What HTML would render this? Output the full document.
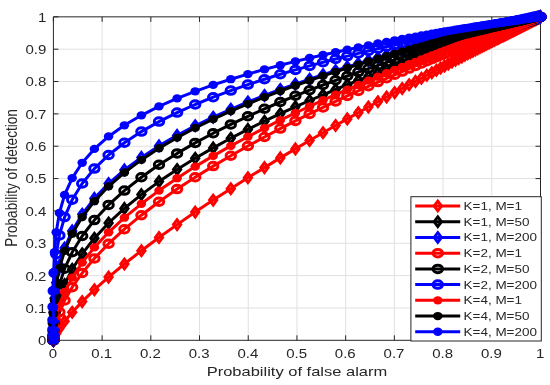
<!DOCTYPE html><html><head><meta charset="utf-8"><title>ROC</title><style>html,body{margin:0;padding:0;background:#fff}svg{display:block}text{font-family:"Liberation Sans",sans-serif;fill:#262626}</style></head><body>
<svg width="550" height="385" viewBox="0 0 550 385">
<rect width="550" height="385" fill="#fff"/>
<defs>
<marker id="mdr" markerUnits="userSpaceOnUse" markerWidth="20" markerHeight="20" refX="10" refY="10" viewBox="0 0 20 20" overflow="visible"><path d="M10 5.2l3.6 4.8l-3.6 4.8l-3.6 -4.8Z" fill="none" stroke="#ff0000" stroke-width="3.0" stroke-linejoin="miter"/></marker>
<marker id="mor" markerUnits="userSpaceOnUse" markerWidth="20" markerHeight="20" refX="10" refY="10" viewBox="0 0 20 20" overflow="visible"><ellipse cx="10" cy="10" rx="4.7" ry="3.75" fill="none" stroke="#ff0000" stroke-width="3.0"/></marker>
<marker id="mfr" markerUnits="userSpaceOnUse" markerWidth="20" markerHeight="20" refX="10" refY="10" viewBox="0 0 20 20" overflow="visible"><ellipse cx="10" cy="10" rx="4.75" ry="4.15" fill="#ff0000"/></marker>
<marker id="mdk" markerUnits="userSpaceOnUse" markerWidth="20" markerHeight="20" refX="10" refY="10" viewBox="0 0 20 20" overflow="visible"><path d="M10 5.2l3.6 4.8l-3.6 4.8l-3.6 -4.8Z" fill="none" stroke="#000000" stroke-width="3.0" stroke-linejoin="miter"/></marker>
<marker id="mok" markerUnits="userSpaceOnUse" markerWidth="20" markerHeight="20" refX="10" refY="10" viewBox="0 0 20 20" overflow="visible"><ellipse cx="10" cy="10" rx="4.7" ry="3.75" fill="none" stroke="#000000" stroke-width="3.0"/></marker>
<marker id="mfk" markerUnits="userSpaceOnUse" markerWidth="20" markerHeight="20" refX="10" refY="10" viewBox="0 0 20 20" overflow="visible"><ellipse cx="10" cy="10" rx="4.75" ry="4.15" fill="#000000"/></marker>
<marker id="mdb" markerUnits="userSpaceOnUse" markerWidth="20" markerHeight="20" refX="10" refY="10" viewBox="0 0 20 20" overflow="visible"><path d="M10 5.2l3.6 4.8l-3.6 4.8l-3.6 -4.8Z" fill="none" stroke="#0000ff" stroke-width="3.0" stroke-linejoin="miter"/></marker>
<marker id="mob" markerUnits="userSpaceOnUse" markerWidth="20" markerHeight="20" refX="10" refY="10" viewBox="0 0 20 20" overflow="visible"><ellipse cx="10" cy="10" rx="4.7" ry="3.75" fill="none" stroke="#0000ff" stroke-width="3.0"/></marker>
<marker id="mfb" markerUnits="userSpaceOnUse" markerWidth="20" markerHeight="20" refX="10" refY="10" viewBox="0 0 20 20" overflow="visible"><ellipse cx="10" cy="10" rx="4.75" ry="4.15" fill="#0000ff"/></marker>
</defs>
<path d="M102.11 16.85V340.3M53.4 307.96H540.5M150.82 16.85V340.3M53.4 275.61H540.5M199.53 16.85V340.3M53.4 243.27H540.5M248.24 16.85V340.3M53.4 210.92H540.5M296.95 16.85V340.3M53.4 178.58H540.5M345.66 16.85V340.3M53.4 146.23H540.5M394.37 16.85V340.3M53.4 113.89H540.5M443.08 16.85V340.3M53.4 81.54H540.5M491.79 16.85V340.3M53.4 49.19H540.5" stroke="#e0e0e0" stroke-width="1" fill="none"/>
<path d="M53.4 16.85H540.5V340.3H53.4ZM53.40 340.3v-5M53.40 16.85v5M53.4 340.30h5M540.5 340.30h-5M102.11 340.3v-5M102.11 16.85v5M53.4 307.96h5M540.5 307.96h-5M150.82 340.3v-5M150.82 16.85v5M53.4 275.61h5M540.5 275.61h-5M199.53 340.3v-5M199.53 16.85v5M53.4 243.27h5M540.5 243.27h-5M248.24 340.3v-5M248.24 16.85v5M53.4 210.92h5M540.5 210.92h-5M296.95 340.3v-5M296.95 16.85v5M53.4 178.58h5M540.5 178.58h-5M345.66 340.3v-5M345.66 16.85v5M53.4 146.23h5M540.5 146.23h-5M394.37 340.3v-5M394.37 16.85v5M53.4 113.89h5M540.5 113.89h-5M443.08 340.3v-5M443.08 16.85v5M53.4 81.54h5M540.5 81.54h-5M491.79 340.3v-5M491.79 16.85v5M53.4 49.19h5M540.5 49.19h-5M540.50 340.3v-5M540.50 16.85v5M53.4 16.85h5M540.5 16.85h-5" stroke="#262626" stroke-width="1" fill="none"/>
<text transform="translate(53.00 357.9) scale(1.25 1)" font-size="12" text-anchor="middle">0</text>
<text transform="translate(46.3 345.20) scale(1.25 1)" font-size="12" text-anchor="end">0</text>
<text transform="translate(101.71 357.9) scale(1.25 1)" font-size="12" text-anchor="middle">0.1</text>
<text transform="translate(46.3 312.86) scale(1.25 1)" font-size="12" text-anchor="end">0.1</text>
<text transform="translate(150.42 357.9) scale(1.25 1)" font-size="12" text-anchor="middle">0.2</text>
<text transform="translate(46.3 280.51) scale(1.25 1)" font-size="12" text-anchor="end">0.2</text>
<text transform="translate(199.13 357.9) scale(1.25 1)" font-size="12" text-anchor="middle">0.3</text>
<text transform="translate(46.3 248.17) scale(1.25 1)" font-size="12" text-anchor="end">0.3</text>
<text transform="translate(247.84 357.9) scale(1.25 1)" font-size="12" text-anchor="middle">0.4</text>
<text transform="translate(46.3 215.82) scale(1.25 1)" font-size="12" text-anchor="end">0.4</text>
<text transform="translate(296.55 357.9) scale(1.25 1)" font-size="12" text-anchor="middle">0.5</text>
<text transform="translate(46.3 183.48) scale(1.25 1)" font-size="12" text-anchor="end">0.5</text>
<text transform="translate(345.26 357.9) scale(1.25 1)" font-size="12" text-anchor="middle">0.6</text>
<text transform="translate(46.3 151.13) scale(1.25 1)" font-size="12" text-anchor="end">0.6</text>
<text transform="translate(393.97 357.9) scale(1.25 1)" font-size="12" text-anchor="middle">0.7</text>
<text transform="translate(46.3 118.79) scale(1.25 1)" font-size="12" text-anchor="end">0.7</text>
<text transform="translate(442.68 357.9) scale(1.25 1)" font-size="12" text-anchor="middle">0.8</text>
<text transform="translate(46.3 86.44) scale(1.25 1)" font-size="12" text-anchor="end">0.8</text>
<text transform="translate(491.39 357.9) scale(1.25 1)" font-size="12" text-anchor="middle">0.9</text>
<text transform="translate(46.3 54.09) scale(1.25 1)" font-size="12" text-anchor="end">0.9</text>
<text transform="translate(540.10 357.9) scale(1.25 1)" font-size="12" text-anchor="middle">1</text>
<text transform="translate(46.3 21.75) scale(1.25 1)" font-size="12" text-anchor="end">1</text>
<text transform="translate(296.95 376.1) scale(1.25 1)" font-size="13.2" text-anchor="middle">Probability of false alarm</text>
<text transform="translate(16.7 177.88) rotate(-90) scale(1 1.2)" font-size="13.6" text-anchor="middle">Probability of detection</text>
<path d="M53.4 340.3L53.4 340.3L53.4 340.3L53.4 340.3L53.4 340.3L53.4 340.2L53.5 339.9L53.7 339.0L54.5 337.0L56.2 333.6L59.4 328.4L64.6 321.2L72.2 312.2L82.2 301.6L94.4 289.7L108.6 277.1L124.4 264.0L141.4 250.7L159.0 237.5L177.1 224.6L195.2 212.1L213.2 200.1L230.8 188.7L247.9 177.8L264.5 167.6L280.3 157.9L295.4 148.9L309.6 140.5L323.0 132.7L335.6 125.5L347.3 118.9L358.3 112.7L368.4 107.0L377.9 101.8L386.6 97.0L394.7 92.6L402.2 88.5L409.1 84.8L415.5 81.4L421.4 78.2L426.8 75.3L431.8 72.7L436.4 70.2L440.6 68.0L444.6 65.9L448.4 63.9L452.0 62.0L455.5 60.2L458.8 58.5L461.9 56.9L464.8 55.3L467.7 53.8L470.4 52.5L472.9 51.1L475.3 49.9L477.7 48.7L479.9 47.5L482.0 46.5L484.0 45.4L485.9 44.4L487.7 43.5L489.5 42.6L491.1 41.8L492.7 40.9L494.2 40.2L495.7 39.4L497.1 38.7L498.4 38.1L499.7 37.4L500.9 36.8L502.0 36.2L503.2 35.6L504.2 35.1L505.2 34.6L506.2 34.1L507.2 33.6L508.1 33.1L508.9 32.7L509.7 32.3L510.5 31.9L511.3 31.5L512.0 31.1L512.7 30.8L513.4 30.4L514.1 30.1L514.7 29.8L515.3 29.5L515.9 29.2L516.5 28.9L517.5 28.4L518.5 27.9L519.5 27.4L520.5 26.9L521.5 26.4L522.5 25.9L523.4 25.4L524.4 24.9L525.4 24.4L526.4 23.9L527.4 23.4L528.4 22.9L529.4 22.4L530.4 21.9L531.4 21.4L532.4 20.9L533.4 20.4L534.4 19.9L535.4 19.4L536.4 18.9L537.4 18.4L538.4 17.9L539.4 17.4L540.4 16.9L540.5 16.9" fill="none" stroke="#ff0000" stroke-width="3.0" stroke-linejoin="round" marker-start="url(#mdr)" marker-mid="url(#mdr)" marker-end="url(#mdr)"/>
<path d="M53.4 340.3L53.4 340.3L53.4 340.3L53.4 340.1L53.4 339.6L53.4 338.2L53.5 335.1L53.7 329.7L54.5 321.7L56.2 311.3L59.4 298.6L64.6 284.5L72.2 269.3L82.2 253.8L94.4 238.2L108.6 223.0L124.4 208.4L141.4 194.6L159.0 181.6L177.1 169.5L195.2 158.3L213.2 147.9L230.8 138.3L247.9 129.4L264.5 121.2L280.3 113.7L295.4 106.8L309.6 100.5L323.0 94.8L335.6 89.5L347.3 84.7L358.3 80.3L368.4 76.3L377.9 72.6L386.6 69.3L394.7 66.2L402.2 63.5L409.1 60.9L415.5 58.6L421.4 56.5L426.8 54.5L431.8 52.8L436.4 51.1L440.6 49.7L444.6 48.3L448.4 46.9L452.0 45.7L455.5 44.5L458.8 43.4L461.9 42.3L464.8 41.3L467.7 40.4L470.4 39.5L472.9 38.6L475.3 37.8L477.7 37.0L479.9 36.3L482.0 35.6L484.0 34.9L485.9 34.3L487.7 33.7L489.5 33.1L491.1 32.6L492.7 32.0L494.2 31.5L495.7 31.1L497.1 30.6L498.4 30.2L499.7 29.8L500.9 29.4L502.0 29.0L503.2 28.7L504.2 28.3L505.2 28.0L506.2 27.7L507.2 27.4L508.1 27.1L508.9 26.8L509.7 26.5L510.5 26.3L511.3 26.0L512.0 25.8L512.7 25.6L513.4 25.4L514.1 25.1L514.7 24.9L515.3 24.8L515.9 24.6L516.5 24.4L517.5 24.1L518.5 23.8L519.5 23.4L520.5 23.1L521.5 22.8L522.5 22.5L523.4 22.2L524.4 21.9L525.4 21.5L526.4 21.2L527.4 20.9L528.4 20.6L529.4 20.3L530.4 20.0L531.4 19.7L532.4 19.4L533.4 19.0L534.4 18.7L535.4 18.4L536.4 18.1L537.4 17.8L538.4 17.5L539.4 17.2L540.4 16.9L540.5 16.9" fill="none" stroke="#000000" stroke-width="3.0" stroke-linejoin="round" marker-start="url(#mdk)" marker-mid="url(#mdk)" marker-end="url(#mdk)"/>
<path d="M53.4 340.3L53.4 340.2L53.4 339.9L53.4 338.8L53.4 336.3L53.4 331.4L53.5 323.4L53.7 312.2L54.5 298.3L56.2 282.5L59.4 265.5L64.6 248.1L72.2 230.9L82.2 214.2L94.4 198.4L108.6 183.6L124.4 169.9L141.4 157.4L159.0 145.9L177.1 135.4L195.2 125.8L213.2 117.2L230.8 109.3L247.9 102.0L264.5 95.5L280.3 89.5L295.4 84.1L309.6 79.2L323.0 74.7L335.6 70.6L347.3 66.9L358.3 63.6L368.4 60.5L377.9 57.8L386.6 55.3L394.7 53.0L402.2 50.9L409.1 49.0L415.5 47.3L421.4 45.7L426.8 44.3L431.8 42.9L436.4 41.7L440.6 40.7L444.6 39.6L448.4 38.7L452.0 37.7L455.5 36.9L458.8 36.0L461.9 35.3L464.8 34.5L467.7 33.8L470.4 33.2L472.9 32.5L475.3 32.0L477.7 31.4L479.9 30.9L482.0 30.3L484.0 29.9L485.9 29.4L487.7 29.0L489.5 28.6L491.1 28.2L492.7 27.8L494.2 27.4L495.7 27.1L497.1 26.8L498.4 26.4L499.7 26.1L500.9 25.9L502.0 25.6L503.2 25.3L504.2 25.1L505.2 24.8L506.2 24.6L507.2 24.4L508.1 24.2L508.9 24.0L509.7 23.8L510.5 23.6L511.3 23.4L512.0 23.3L512.7 23.1L513.4 23.0L514.1 22.8L514.7 22.7L515.3 22.5L515.9 22.4L516.5 22.3L517.5 22.0L518.5 21.8L519.5 21.6L520.5 21.3L521.5 21.1L522.5 20.9L523.4 20.7L524.4 20.4L525.4 20.2L526.4 20.0L527.4 19.8L528.4 19.5L529.4 19.3L530.4 19.1L531.4 18.9L532.4 18.6L533.4 18.4L534.4 18.2L535.4 18.0L536.4 17.8L537.4 17.5L538.4 17.3L539.4 17.1L540.4 16.9L540.5 16.9" fill="none" stroke="#0000ff" stroke-width="3.0" stroke-linejoin="round" marker-start="url(#mdb)" marker-mid="url(#mdb)" marker-end="url(#mdb)"/>
<path d="M53.4 340.3L53.4 340.3L53.4 340.3L53.4 340.3L53.4 340.1L53.4 339.5L53.5 337.9L53.7 334.8L54.5 329.6L56.2 322.0L59.4 312.1L64.6 300.4L72.2 287.2L82.2 273.0L94.4 258.4L108.6 243.7L124.4 229.2L141.4 215.2L159.0 201.8L177.1 189.1L195.2 177.2L213.2 166.1L230.8 155.7L247.9 146.0L264.5 137.0L280.3 128.6L295.4 120.9L309.6 113.9L323.0 107.4L335.6 101.4L347.3 95.9L358.3 90.9L368.4 86.3L377.9 82.1L386.6 78.3L394.7 74.8L402.2 71.6L409.1 68.6L415.5 65.9L421.4 63.5L426.8 61.2L431.8 59.2L436.4 57.3L440.6 55.5L444.6 53.9L448.4 52.4L452.0 50.9L455.5 49.5L458.8 48.2L461.9 47.0L464.8 45.8L467.7 44.7L470.4 43.6L472.9 42.6L475.3 41.6L477.7 40.7L479.9 39.9L482.0 39.0L484.0 38.2L485.9 37.5L487.7 36.8L489.5 36.1L491.1 35.5L492.7 34.9L494.2 34.3L495.7 33.7L497.1 33.2L498.4 32.7L499.7 32.2L500.9 31.7L502.0 31.3L503.2 30.9L504.2 30.5L505.2 30.1L506.2 29.7L507.2 29.3L508.1 29.0L508.9 28.7L509.7 28.3L510.5 28.0L511.3 27.8L512.0 27.5L512.7 27.2L513.4 27.0L514.1 26.7L514.7 26.5L515.3 26.2L515.9 26.0L516.5 25.8L517.5 25.4L518.5 25.1L519.5 24.7L520.5 24.3L521.5 23.9L522.5 23.6L523.4 23.2L524.4 22.8L525.4 22.4L526.4 22.1L527.4 21.7L528.4 21.3L529.4 20.9L530.4 20.6L531.4 20.2L532.4 19.8L533.4 19.5L534.4 19.1L535.4 18.7L536.4 18.3L537.4 18.0L538.4 17.6L539.4 17.2L540.4 16.9L540.5 16.9" fill="none" stroke="#ff0000" stroke-width="3.0" stroke-linejoin="round" marker-start="url(#mor)" marker-mid="url(#mor)" marker-end="url(#mor)"/>
<path d="M53.4 340.3L53.4 340.3L53.4 340.2L53.4 339.8L53.4 338.7L53.4 336.0L53.5 331.0L53.7 323.1L54.5 312.5L56.2 299.4L59.4 284.6L64.6 268.7L72.2 252.3L82.2 236.0L94.4 220.1L108.6 204.9L124.4 190.6L141.4 177.2L159.0 164.8L177.1 153.4L195.2 142.9L213.2 133.2L230.8 124.4L247.9 116.3L264.5 108.8L280.3 102.0L295.4 95.8L309.6 90.2L323.0 85.0L335.6 80.3L347.3 76.0L358.3 72.1L368.4 68.6L377.9 65.4L386.6 62.4L394.7 59.7L402.2 57.3L409.1 55.1L415.5 53.0L421.4 51.2L426.8 49.5L431.8 47.9L436.4 46.5L440.6 45.2L444.6 44.0L448.4 42.9L452.0 41.8L455.5 40.7L458.8 39.8L461.9 38.8L464.8 38.0L467.7 37.1L470.4 36.4L472.9 35.6L475.3 34.9L477.7 34.2L479.9 33.6L482.0 33.0L484.0 32.4L485.9 31.9L487.7 31.4L489.5 30.9L491.1 30.4L492.7 29.9L494.2 29.5L495.7 29.1L497.1 28.7L498.4 28.3L499.7 28.0L500.9 27.6L502.0 27.3L503.2 27.0L504.2 26.7L505.2 26.4L506.2 26.2L507.2 25.9L508.1 25.6L508.9 25.4L509.7 25.2L510.5 25.0L511.3 24.7L512.0 24.5L512.7 24.4L513.4 24.2L514.1 24.0L514.7 23.8L515.3 23.6L515.9 23.5L516.5 23.3L517.5 23.1L518.5 22.8L519.5 22.5L520.5 22.2L521.5 22.0L522.5 21.7L523.4 21.4L524.4 21.2L525.4 20.9L526.4 20.6L527.4 20.3L528.4 20.1L529.4 19.8L530.4 19.5L531.4 19.3L532.4 19.0L533.4 18.7L534.4 18.5L535.4 18.2L536.4 17.9L537.4 17.7L538.4 17.4L539.4 17.1L540.4 16.9L540.5 16.9" fill="none" stroke="#000000" stroke-width="3.0" stroke-linejoin="round" marker-start="url(#mok)" marker-mid="url(#mok)" marker-end="url(#mok)"/>
<path d="M53.4 340.3L53.4 339.6L53.4 338.3L53.4 335.2L53.4 329.3L53.4 319.9L53.5 306.9L53.7 290.9L54.5 273.0L56.2 254.2L59.4 235.4L64.6 217.1L72.2 199.7L82.2 183.5L94.4 168.6L108.6 155.0L124.4 142.7L141.4 131.6L159.0 121.6L177.1 112.6L195.2 104.5L213.2 97.2L230.8 90.6L247.9 84.6L264.5 79.2L280.3 74.3L295.4 69.9L309.6 65.9L323.0 62.3L335.6 59.0L347.3 56.1L358.3 53.4L368.4 51.0L377.9 48.8L386.6 46.8L394.7 45.0L402.2 43.4L409.1 41.9L415.5 40.5L421.4 39.3L426.8 38.1L431.8 37.1L436.4 36.2L440.6 35.3L444.6 34.5L448.4 33.7L452.0 33.0L455.5 32.3L458.8 31.7L461.9 31.1L464.8 30.5L467.7 30.0L470.4 29.5L472.9 29.0L475.3 28.5L477.7 28.1L479.9 27.7L482.0 27.3L484.0 26.9L485.9 26.5L487.7 26.2L489.5 25.9L491.1 25.6L492.7 25.3L494.2 25.0L495.7 24.7L497.1 24.5L498.4 24.2L499.7 24.0L500.9 23.8L502.0 23.6L503.2 23.4L504.2 23.2L505.2 23.0L506.2 22.8L507.2 22.7L508.1 22.5L508.9 22.4L509.7 22.2L510.5 22.1L511.3 21.9L512.0 21.8L512.7 21.7L513.4 21.6L514.1 21.4L514.7 21.3L515.3 21.2L515.9 21.1L516.5 21.0L517.5 20.8L518.5 20.7L519.5 20.5L520.5 20.3L521.5 20.1L522.5 20.0L523.4 19.8L524.4 19.6L525.4 19.4L526.4 19.3L527.4 19.1L528.4 18.9L529.4 18.7L530.4 18.6L531.4 18.4L532.4 18.2L533.4 18.1L534.4 17.9L535.4 17.7L536.4 17.5L537.4 17.4L538.4 17.2L539.4 17.0L540.4 16.9L540.5 16.9" fill="none" stroke="#0000ff" stroke-width="3.0" stroke-linejoin="round" marker-start="url(#mob)" marker-mid="url(#mob)" marker-end="url(#mob)"/>
<path d="M53.4 340.3L53.4 340.3L53.4 340.3L53.4 340.2L53.4 339.9L53.4 338.9L53.5 336.6L53.7 332.3L54.5 325.6L56.2 316.4L59.4 305.1L64.6 291.9L72.2 277.6L82.2 262.6L94.4 247.4L108.6 232.3L124.4 217.7L141.4 203.8L159.0 190.6L177.1 178.2L195.2 166.6L213.2 155.9L230.8 145.9L247.9 136.7L264.5 128.1L280.3 120.2L295.4 113.0L309.6 106.3L323.0 100.2L335.6 94.7L347.3 89.6L358.3 84.9L368.4 80.6L377.9 76.7L386.6 73.2L394.7 69.9L402.2 67.0L409.1 64.2L415.5 61.8L421.4 59.5L426.8 57.4L431.8 55.5L436.4 53.8L440.6 52.2L444.6 50.7L448.4 49.3L452.0 47.9L455.5 46.7L458.8 45.5L461.9 44.3L464.8 43.2L467.7 42.2L470.4 41.2L472.9 40.3L475.3 39.4L477.7 38.6L479.9 37.8L482.0 37.1L484.0 36.3L485.9 35.7L487.7 35.0L489.5 34.4L491.1 33.8L492.7 33.2L494.2 32.7L495.7 32.2L497.1 31.7L498.4 31.3L499.7 30.8L500.9 30.4L502.0 30.0L503.2 29.6L504.2 29.2L505.2 28.9L506.2 28.5L507.2 28.2L508.1 27.9L508.9 27.6L509.7 27.3L510.5 27.0L511.3 26.8L512.0 26.5L512.7 26.3L513.4 26.0L514.1 25.8L514.7 25.6L515.3 25.4L515.9 25.2L516.5 25.0L517.5 24.7L518.5 24.3L519.5 24.0L520.5 23.6L521.5 23.3L522.5 22.9L523.4 22.6L524.4 22.3L525.4 21.9L526.4 21.6L527.4 21.2L528.4 20.9L529.4 20.6L530.4 20.2L531.4 19.9L532.4 19.6L533.4 19.2L534.4 18.9L535.4 18.5L536.4 18.2L537.4 17.9L538.4 17.5L539.4 17.2L540.4 16.9L540.5 16.9" fill="none" stroke="#ff0000" stroke-width="3.0" stroke-linejoin="round" marker-start="url(#mfr)" marker-mid="url(#mfr)" marker-end="url(#mfr)"/>
<path d="M53.4 340.3L53.4 340.2L53.4 339.9L53.4 339.0L53.4 336.7L53.4 332.1L53.5 324.6L53.7 313.8L54.5 300.4L56.2 284.9L59.4 268.1L64.6 250.9L72.2 233.7L82.2 217.1L94.4 201.2L108.6 186.3L124.4 172.5L141.4 159.9L159.0 148.2L177.1 137.6L195.2 127.9L213.2 119.1L230.8 111.1L247.9 103.8L264.5 97.1L280.3 91.0L295.4 85.5L309.6 80.5L323.0 75.9L335.6 71.8L347.3 68.0L358.3 64.6L368.4 61.5L377.9 58.7L386.6 56.1L394.7 53.8L402.2 51.7L409.1 49.7L415.5 48.0L421.4 46.4L426.8 44.9L431.8 43.5L436.4 42.3L440.6 41.2L444.6 40.2L448.4 39.2L452.0 38.2L455.5 37.3L458.8 36.5L461.9 35.7L464.8 34.9L467.7 34.2L470.4 33.6L472.9 32.9L475.3 32.3L477.7 31.7L479.9 31.2L482.0 30.7L484.0 30.2L485.9 29.7L487.7 29.3L489.5 28.8L491.1 28.4L492.7 28.0L494.2 27.7L495.7 27.3L497.1 27.0L498.4 26.7L499.7 26.4L500.9 26.1L502.0 25.8L503.2 25.5L504.2 25.3L505.2 25.0L506.2 24.8L507.2 24.6L508.1 24.4L508.9 24.2L509.7 24.0L510.5 23.8L511.3 23.6L512.0 23.4L512.7 23.3L513.4 23.1L514.1 22.9L514.7 22.8L515.3 22.7L515.9 22.5L516.5 22.4L517.5 22.2L518.5 21.9L519.5 21.7L520.5 21.5L521.5 21.2L522.5 21.0L523.4 20.8L524.4 20.5L525.4 20.3L526.4 20.1L527.4 19.8L528.4 19.6L529.4 19.4L530.4 19.1L531.4 18.9L532.4 18.7L533.4 18.5L534.4 18.2L535.4 18.0L536.4 17.8L537.4 17.5L538.4 17.3L539.4 17.1L540.4 16.9L540.5 16.9" fill="none" stroke="#000000" stroke-width="3.0" stroke-linejoin="round" marker-start="url(#mfk)" marker-mid="url(#mfk)" marker-end="url(#mfk)"/>
<path d="M53.4 340.3L53.4 338.4L53.4 335.5L53.4 329.8L53.4 320.6L53.4 307.5L53.5 291.0L53.7 272.1L54.5 252.2L56.2 232.3L59.4 213.0L64.6 194.9L72.2 178.1L82.2 162.8L94.4 148.9L108.6 136.4L124.4 125.3L141.4 115.3L159.0 106.4L177.1 98.4L195.2 91.3L213.2 84.9L230.8 79.2L247.9 74.1L264.5 69.4L280.3 65.2L295.4 61.4L309.6 58.0L323.0 55.0L335.6 52.2L347.3 49.7L358.3 47.4L368.4 45.4L377.9 43.5L386.6 41.9L394.7 40.3L402.2 39.0L409.1 37.7L415.5 36.6L421.4 35.5L426.8 34.6L431.8 33.7L436.4 32.9L440.6 32.2L444.6 31.5L448.4 30.9L452.0 30.3L455.5 29.7L458.8 29.2L461.9 28.7L464.8 28.2L467.7 27.8L470.4 27.3L472.9 26.9L475.3 26.5L477.7 26.2L479.9 25.8L482.0 25.5L484.0 25.2L485.9 24.9L487.7 24.6L489.5 24.3L491.1 24.1L492.7 23.9L494.2 23.6L495.7 23.4L497.1 23.2L498.4 23.0L499.7 22.8L500.9 22.6L502.0 22.4L503.2 22.3L504.2 22.1L505.2 22.0L506.2 21.8L507.2 21.7L508.1 21.5L508.9 21.4L509.7 21.3L510.5 21.2L511.3 21.1L512.0 21.0L512.7 20.8L513.4 20.7L514.1 20.7L514.7 20.6L515.3 20.5L515.9 20.4L516.5 20.3L517.5 20.2L518.5 20.0L519.5 19.9L520.5 19.7L521.5 19.6L522.5 19.4L523.4 19.3L524.4 19.1L525.4 19.0L526.4 18.9L527.4 18.7L528.4 18.6L529.4 18.4L530.4 18.3L531.4 18.1L532.4 18.0L533.4 17.8L534.4 17.7L535.4 17.6L536.4 17.4L537.4 17.3L538.4 17.1L539.4 17.0L540.4 16.9L540.5 16.9" fill="none" stroke="#0000ff" stroke-width="3.0" stroke-linejoin="round" marker-start="url(#mfb)" marker-mid="url(#mfb)" marker-end="url(#mfb)"/>
<rect x="410.9" y="196.7" width="130.39999999999998" height="144.3" fill="#fff" stroke="#262626" stroke-width="1"/>
<path d="M415.2 206.00H460.2" stroke="#ff0000" stroke-width="3.0"/>
<path d="M437.8 201.2l3.6 4.8l-3.6 4.8l-3.6 -4.8Z" fill="none" stroke="#ff0000" stroke-width="3.0" stroke-linejoin="miter"/>
<text transform="translate(463.5 209.90) scale(1.25 1)" font-size="10.8">K=1, M=1</text>
<path d="M415.2 221.72H460.2" stroke="#000000" stroke-width="3.0"/>
<path d="M437.8 216.92l3.6 4.8l-3.6 4.8l-3.6 -4.8Z" fill="none" stroke="#000000" stroke-width="3.0" stroke-linejoin="miter"/>
<text transform="translate(463.5 225.62) scale(1.25 1)" font-size="10.8">K=1, M=50</text>
<path d="M415.2 237.44H460.2" stroke="#0000ff" stroke-width="3.0"/>
<path d="M437.8 232.64l3.6 4.8l-3.6 4.8l-3.6 -4.8Z" fill="none" stroke="#0000ff" stroke-width="3.0" stroke-linejoin="miter"/>
<text transform="translate(463.5 241.34) scale(1.25 1)" font-size="10.8">K=1, M=200</text>
<path d="M415.2 253.16H460.2" stroke="#ff0000" stroke-width="3.0"/>
<ellipse cx="437.8" cy="253.16" rx="4.7" ry="3.75" fill="none" stroke="#ff0000" stroke-width="3.0"/>
<text transform="translate(463.5 257.06) scale(1.25 1)" font-size="10.8">K=2, M=1</text>
<path d="M415.2 268.88H460.2" stroke="#000000" stroke-width="3.0"/>
<ellipse cx="437.8" cy="268.88" rx="4.7" ry="3.75" fill="none" stroke="#000000" stroke-width="3.0"/>
<text transform="translate(463.5 272.78) scale(1.25 1)" font-size="10.8">K=2, M=50</text>
<path d="M415.2 284.60H460.2" stroke="#0000ff" stroke-width="3.0"/>
<ellipse cx="437.8" cy="284.6" rx="4.7" ry="3.75" fill="none" stroke="#0000ff" stroke-width="3.0"/>
<text transform="translate(463.5 288.50) scale(1.25 1)" font-size="10.8">K=2, M=200</text>
<path d="M415.2 300.32H460.2" stroke="#ff0000" stroke-width="3.0"/>
<ellipse cx="437.8" cy="300.32" rx="4.75" ry="4.15" fill="#ff0000"/>
<text transform="translate(463.5 304.22) scale(1.25 1)" font-size="10.8">K=4, M=1</text>
<path d="M415.2 316.04H460.2" stroke="#000000" stroke-width="3.0"/>
<ellipse cx="437.8" cy="316.04" rx="4.75" ry="4.15" fill="#000000"/>
<text transform="translate(463.5 319.94) scale(1.25 1)" font-size="10.8">K=4, M=50</text>
<path d="M415.2 331.76H460.2" stroke="#0000ff" stroke-width="3.0"/>
<ellipse cx="437.8" cy="331.76" rx="4.75" ry="4.15" fill="#0000ff"/>
<text transform="translate(463.5 335.66) scale(1.25 1)" font-size="10.8">K=4, M=200</text>
</svg></body></html>
